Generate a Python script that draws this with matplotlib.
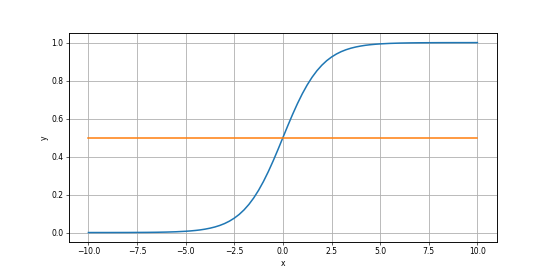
import matplotlib
matplotlib.use("Agg")
import matplotlib.pyplot as plt

x_vals = [-10.0, -9.5, -9.0, -8.5, -8.0, -7.5, -7.0, -6.5, -6.0, -5.5,
          -5.0, -4.75, -4.5, -4.25, -4.0, -3.75, -3.5, -3.25, -3.0, -2.75,
          -2.5, -2.25, -2.0, -1.75, -1.5, -1.25, -1.0, -0.75, -0.5, -0.25,
          0.0, 0.25, 0.5, 0.75, 1.0, 1.25, 1.5, 1.75, 2.0, 2.25,
          2.5, 2.75, 3.0, 3.25, 3.5, 3.75, 4.0, 4.25, 4.5, 4.75,
          5.0, 5.5, 6.0, 6.5, 7.0, 7.5, 8.0, 8.5, 9.0, 9.5, 10.0]
curve_y = [0.0000, 0.0001, 0.0001, 0.0002, 0.0003, 0.0006, 0.0009, 0.0015, 0.0025, 0.0041,
           0.0067, 0.0086, 0.0110, 0.0140, 0.0180, 0.0230, 0.0293, 0.0373, 0.0474, 0.0601,
           0.0759, 0.0953, 0.1192, 0.1480, 0.1824, 0.2227, 0.2689, 0.3208, 0.3775, 0.4378,
           0.5000, 0.5622, 0.6225, 0.6792, 0.7311, 0.7773, 0.8176, 0.8520, 0.8808, 0.9047,
           0.9241, 0.9399, 0.9526, 0.9627, 0.9707, 0.9770, 0.9820, 0.9860, 0.9890, 0.9914,
           0.9933, 0.9959, 0.9975, 0.9985, 0.9991, 0.9994, 0.9997, 0.9998, 0.9999, 0.9999, 1.0000]
threshold_x = [-10.0, 10.0]
threshold_y = [0.5, 0.5]

fig, ax = plt.subplots(figsize=(10, 5), dpi=55.2)
fig.subplots_adjust(left=0.125, right=0.9, top=0.88, bottom=0.123)
ax.plot(x_vals, curve_y, linewidth=2.0)
ax.plot(threshold_x, threshold_y, linewidth=2.0)
ax.set_xlabel("x")
ax.set_ylabel("y")
ax.grid(True, linewidth=1.1)
for s in ax.spines.values():
    s.set_linewidth(1.2)
fig.savefig("out.png", dpi=55.2)
